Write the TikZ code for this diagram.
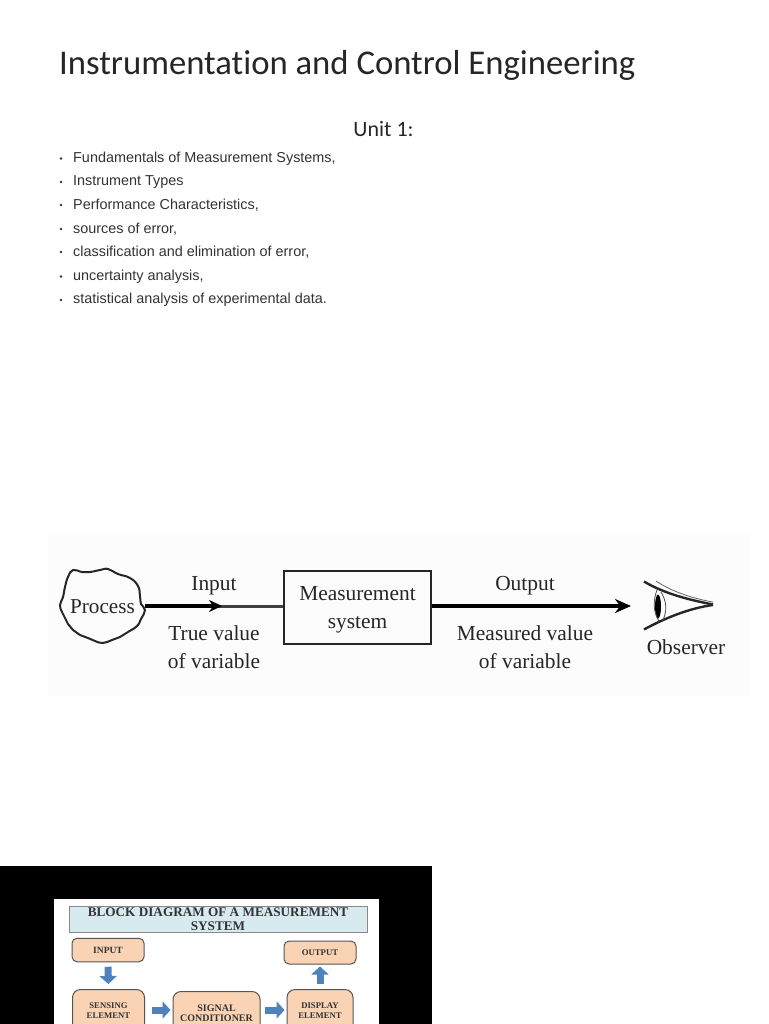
\documentclass[tikz,border=0pt]{standalone}
\usepackage{fontspec}
\setmainfont{Liberation Serif}
\newfontfamily\carl[RawFeature={-liga}]{Carlito}
\newfontfamily\arial{Liberation Sans}
\usetikzlibrary{arrows.meta,positioning,calc}
\definecolor{slatetext}{HTML}{333333}
\definecolor{peach}{HTML}{F9D3B4}
\definecolor{headblue}{HTML}{D6EAF0}
\definecolor{arrowblue}{HTML}{4F81BD}
\definecolor{boxedge}{HTML}{555555}
\tikzset{
  titletext/.style={anchor=west,inner sep=0,font=\carl\fontsize{34.7}{38}\selectfont,text=black!85},
  unittext/.style={anchor=center,inner sep=0,font=\carl\fontsize{22}{26}\selectfont,text=black!85},
  itemtext/.style={anchor=west,inner sep=0,font=\arial\fontsize{14.4}{16}\selectfont,text=slatetext},
  bulletdot/.style={circle,fill=slatetext,inner sep=0,minimum size=2.6pt},
  figlabel/.style={align=center,inner sep=0,font=\fontsize{21.4}{27.5}\selectfont,text=black!85},
  heavyline/.style={line width=3.4pt,black},
  blocktext/.style={draw=boxedge,line width=1pt,rounded corners=5pt,fill=peach,align=center,inner sep=0,
     font=\bfseries\fontsize{8.7}{9.5}\selectfont,text=black!80},
  blockarrow/.style={arrowblue,line width=7pt,-{Triangle[length=8pt,width=17pt]}},
}
\begin{document}
\begin{tikzpicture}[x=1pt,y=-1pt]
\clip (0,0) rectangle (768,1024);
\fill[white] (0,0) rectangle (768,1024);
\node[titletext] (title) at (59,65) {Instrumentation and Control Engineering};
\node[unittext] (unit) at (383.5,129) {Unit 1:};
\foreach \nm/\yy/\tx in {
 a/158.5/{Fundamentals of Measurement Systems,},
 b/182/{Instrument Types},
 c/205/{Performance Characteristics,},
 d/229/{sources of error,},
 e/252/{classification and elimination of error,},
 f/276.5/{uncertainty analysis,},
 g/300/{statistical analysis of experimental data.}}{
  \node[bulletdot] (dot\nm) at (61,\yy) {};
  \node[itemtext] (item\nm) at (73,\yy) {\tx};
}
% measurement figure
\fill[black!1] (47,535) rectangle (750,696);
\node[inner sep=0,minimum width=85pt,minimum height=20pt,font=\fontsize{21.2}{24}\selectfont,text=black!85] (process) at (102.5,606.5) {Process};
\draw[line width=2pt,black!85,smooth cycle,tension=0.8] plot coordinates {
 (73,570) (82,572) (90,572) (100,570) (108,569) (118,574) (130,578) (138,586) (140,596) (141,604) (145,610) (141,619) (137,626)
 (128,632) (120,637) (112,640) (103,643) (95,641) (88,638) (80,635) (73,630) (68,624) (65,618) (62,612) (60,605) (63,597) (65,587) (68,577)};
\node[draw=black!85,line width=2pt,minimum width=147pt,minimum height=73pt,inner sep=0] (ms) at (357.5,607) {};
\node[figlabel,yshift=-3pt] (mslabel) at (ms.center) {Measurement\\system};
\coordinate (midin) at (222,606);
\coordinate (midin2) at (216,606);
\draw[black!75,line width=3pt] (midin2) -- (ms.west |- midin);
\draw[heavyline,-{Stealth[length=13pt,width=12pt]}] (process.east |- midin) -- (midin);
\coordinate (outend) at (631,606);
\draw[heavyline,-{Stealth[length=16pt,width=14pt]}] (ms.east |- outend) -- (outend);
\node[figlabel] (inl) at (214,586) {Input};
\node[figlabel] (tv) at (214,647) {True value\\of variable};
\node[figlabel] (outl) at (525,586) {Output};
\node[figlabel] (mv) at (525,647) {Measured value\\of variable};
\node[figlabel] (obs) at (686,647.5) {Observer};
% eye
\draw[black!85,line width=2.4pt] (644,581.5) .. controls (665,594) and (690,600) .. (713,604.5);
\draw[black!60,line width=.8pt] (656,581) .. controls (672,592) and (695,599) .. (713,602);
\draw[black!85,line width=2.4pt] (644,629.5) .. controls (665,618) and (690,608) .. (713,605);
\fill[black] (658,606.5) ellipse (3pt and 12pt);
\draw[black!70,line width=.8pt] (657,590) .. controls (653,600) and (653,612) .. (659,621);
\draw[black!70,line width=.8pt] (661,592) .. controls (667,602) and (667,611) .. (663,620);
% bottom picture
\fill[black] (0,866) rectangle (432,1024);
\fill[white] (54,899) rectangle (379,1024);
\node[draw=boxedge!70,line width=.8pt,fill=headblue,minimum width=298pt,minimum height=26pt,inner sep=0,align=center,
  font=\bfseries\fontsize{13.2}{14}\selectfont,text=black!80] (head) at (218,919.5) {BLOCK DIAGRAM OF A MEASUREMENT\\SYSTEM};
\node[blocktext,minimum width=72pt,minimum height=23.5pt,font=\bfseries\fontsize{9.5}{10}\selectfont] (input) at (108,950) {INPUT};
\node[blocktext,minimum width=72pt,minimum height=23pt] (output) at (320,952.5) {OUTPUT};
\node[blocktext,rounded corners=8pt,minimum width=72pt,minimum height=72pt,anchor=north] (sens) at (108.5,989) {SENSING\\ELEMENT\\[20pt]};
\node[blocktext,rounded corners=8pt,minimum width=87pt,minimum height=72pt,anchor=north,font=\bfseries\fontsize{10}{10}\selectfont] (sig) at (216.5,991) {SIGNAL\\CONDITIONER\\[18pt]};
\node[blocktext,rounded corners=8pt,minimum width=66pt,minimum height=72pt,anchor=north] (disp) at (320,989) {DISPLAY\\ELEMENT\\[20pt]};
\coordinate (rowy) at (0,1010);
\draw[blockarrow,shorten <=4.5pt,shorten >=5pt] (input.south) -- (sens.north);
\draw[blockarrow,shorten <=5pt,shorten >=2pt] (disp.north -| output.south) -- (output.south);
\draw[blockarrow,shorten <=7pt,shorten >=2pt] (sens.east |- rowy) -- (sig.west |- rowy);
\draw[blockarrow,shorten <=4pt,shorten >=2pt] (sig.east |- rowy) -- (disp.west |- rowy);
\end{tikzpicture}
\end{document}
